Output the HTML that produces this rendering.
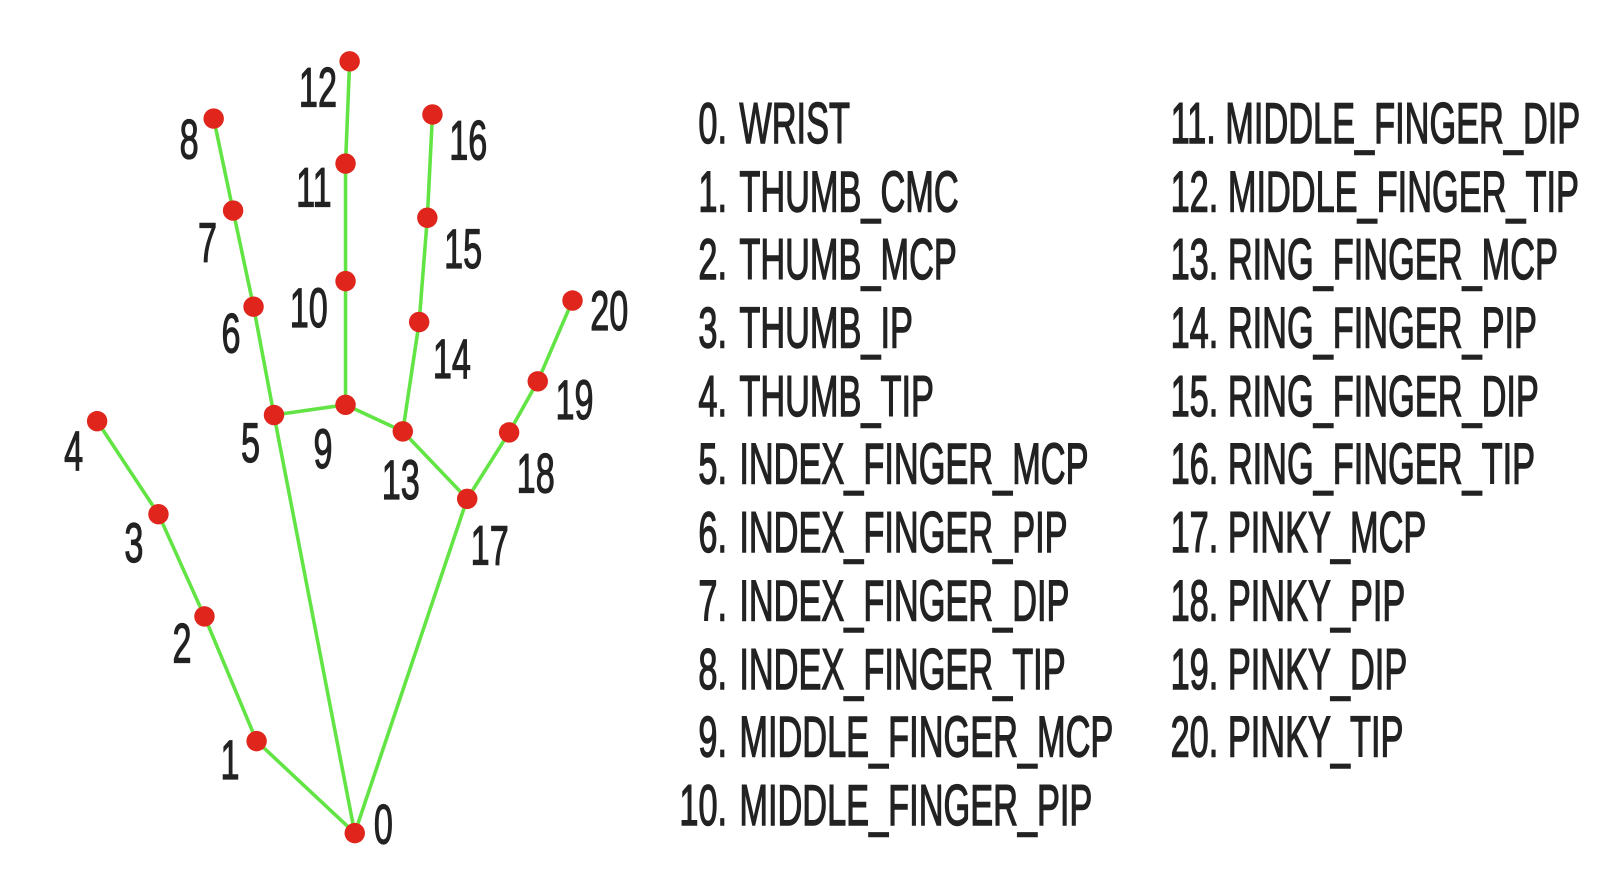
<!DOCTYPE html>
<html><head><meta charset="utf-8"><style>html,body{margin:0;padding:0;background:#fff}svg{display:block}</style></head>
<body>
<svg width="1602" height="874" viewBox="0 0 1567 855" preserveAspectRatio="none" xmlns="http://www.w3.org/2000/svg">
<rect width="1567" height="855" fill="#fff"/>
<g stroke="#62e445" stroke-width="3.5" stroke-linecap="round" fill="none">
<polyline points="347,815 251,725 200,603 155,503 95,412"/>
<polyline points="347,815 268,406 248,300 228,206 209,116"/>
<polyline points="268,406 338,396 338,275 338,160 342,60"/>
<polyline points="338,396 394,422 410,315 418,213 423,112"/>
<polyline points="394,422 457,488 498,423 526,373 560,294"/>
<polyline points="347,815 457,488"/>
</g>
<g fill="#e0261c">
<circle cx="347" cy="815" r="10"/><circle cx="251" cy="725" r="10"/><circle cx="200" cy="603" r="10"/><circle cx="155" cy="503" r="10"/><circle cx="95" cy="412" r="10"/>
<circle cx="268" cy="406" r="10"/><circle cx="248" cy="300" r="10"/><circle cx="228" cy="206" r="10"/><circle cx="209" cy="116" r="10"/>
<circle cx="338" cy="396" r="10"/><circle cx="338" cy="275" r="10"/><circle cx="338" cy="160" r="10"/><circle cx="342" cy="60" r="10"/>
<circle cx="394" cy="422" r="10"/><circle cx="410" cy="315" r="10"/><circle cx="418" cy="213" r="10"/><circle cx="423" cy="112" r="10"/>
<circle cx="457" cy="488" r="10"/><circle cx="498" cy="423" r="10"/><circle cx="526" cy="373" r="10"/><circle cx="560" cy="294" r="10"/>
</g>
<g font-family="Liberation Sans, sans-serif" font-size="54" fill="#222" stroke="#222" stroke-width="1.2" text-anchor="middle">
<text transform="translate(375,825) scale(0.62,1)">0</text>
<text transform="translate(225,762) scale(0.62,1)">1</text>
<text transform="translate(178,648) scale(0.62,1)">2</text>
<text transform="translate(131,550) scale(0.62,1)">3</text>
<text transform="translate(72,460) scale(0.62,1)">4</text>
<text transform="translate(245,452) scale(0.62,1)">5</text>
<text transform="translate(226,345) scale(0.62,1)">6</text>
<text transform="translate(203,256) scale(0.62,1)">7</text>
<text transform="translate(185,155) scale(0.62,1)">8</text>
<text transform="translate(316,458) scale(0.62,1)">9</text>
<text transform="translate(302,320) scale(0.62,1)">10</text>
<text transform="translate(307,202) scale(0.62,1)">11</text>
<text transform="translate(311,104) scale(0.62,1)">12</text>
<text transform="translate(392,488) scale(0.62,1)">13</text>
<text transform="translate(442,370) scale(0.62,1)">14</text>
<text transform="translate(453,262) scale(0.62,1)">15</text>
<text transform="translate(458,156) scale(0.62,1)">16</text>
<text transform="translate(479,552) scale(0.62,1)">17</text>
<text transform="translate(524,482) scale(0.62,1)">18</text>
<text transform="translate(562,410) scale(0.62,1)">19</text>
<text transform="translate(596,323) scale(0.62,1)">20</text>
</g>
<g font-family="Liberation Sans, sans-serif" font-size="56" fill="#222" stroke="#222" stroke-width="1.4">
<g transform="translate(683,0) scale(0.6,1)">
<g text-anchor="end">
<text x="47" y="140">0.</text><text x="47" y="207">1.</text><text x="47" y="273">2.</text><text x="47" y="340">3.</text><text x="47" y="407">4.</text><text x="47" y="473">5.</text><text x="47" y="540">6.</text><text x="47" y="607">7.</text><text x="47" y="674">8.</text><text x="47" y="740">9.</text><text x="47" y="807">10.</text>
</g>
<text x="67" y="140">WRIST</text><text x="67" y="207">THUMB_CMC</text><text x="67" y="273">THUMB_MCP</text><text x="67" y="340">THUMB_IP</text><text x="67" y="407">THUMB_TIP</text><text x="67" y="473">INDEX_FINGER_MCP</text><text x="67" y="540">INDEX_FINGER_PIP</text><text x="67" y="607">INDEX_FINGER_DIP</text><text x="67" y="674">INDEX_FINGER_TIP</text><text x="67" y="740">MIDDLE_FINGER_MCP</text><text x="67" y="807">MIDDLE_FINGER_PIP</text>
</g>
<g transform="translate(1145,0) scale(0.6,1)">
<text y="140">11. MIDDLE_FINGER_DIP</text><text y="207">12. MIDDLE_FINGER_TIP</text><text y="273">13. RING_FINGER_MCP</text><text y="340">14. RING_FINGER_PIP</text><text y="407">15. RING_FINGER_DIP</text><text y="473">16. RING_FINGER_TIP</text><text y="540">17. PINKY_MCP</text><text y="607">18. PINKY_PIP</text><text y="674">19. PINKY_DIP</text><text y="740">20. PINKY_TIP</text>
</g>
</g>
</svg>
</body></html>
